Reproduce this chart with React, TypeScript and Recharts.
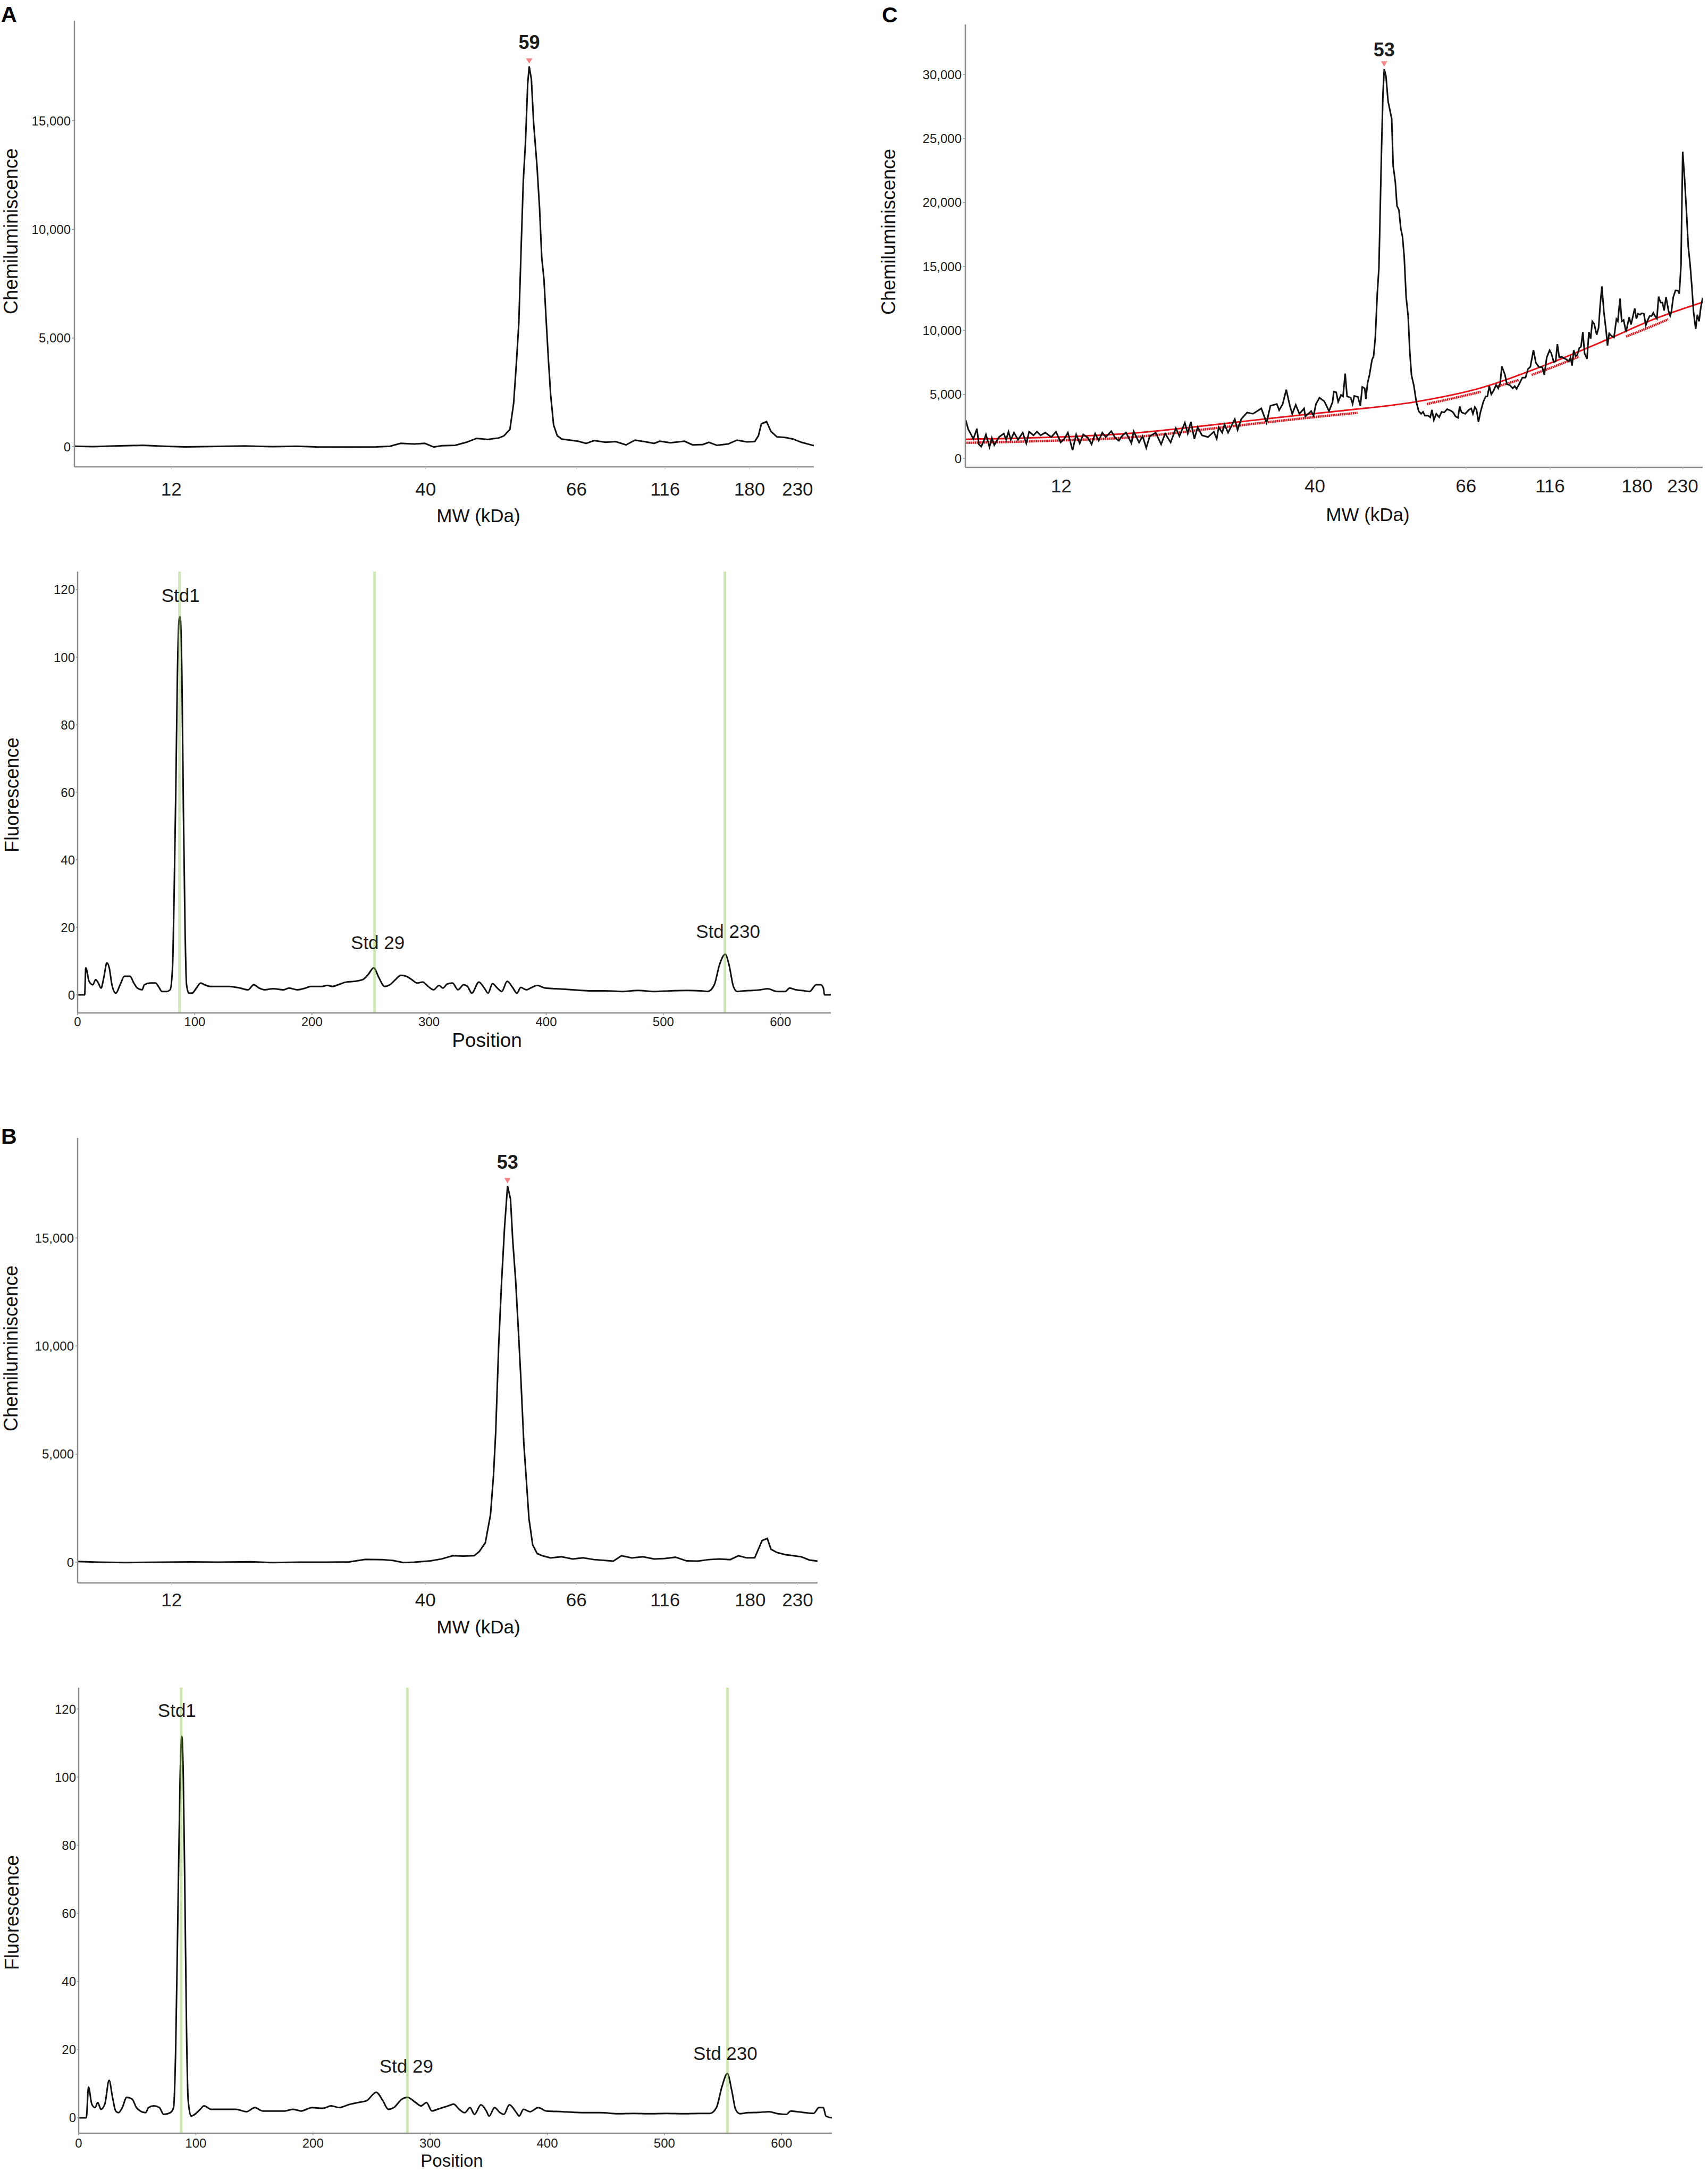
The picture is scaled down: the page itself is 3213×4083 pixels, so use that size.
import React from "react";
import { LineChart, Line, XAxis, YAxis, ReferenceLine, ReferenceDot } from "recharts";

const FONT = "'Liberation Sans', Arial, Helvetica, sans-serif";
const INK = "#1c1c1c";
const AXIS = "#8c8c8c";
const TRACE = "#111111";
const STD_GREEN = "#8bc34a";
const FIT_RED = "#e8141c";

type Pt = [number, number];
const rows = (pts: Pt[]) => pts.map(([x, y]) => ({ x, y }));

// MW axis: label text, and where each label sits on the 0-1000 lane scale
const MW_LABELS = ["12", "40", "66", "116", "180", "230"];
const A_MW_TICKS = [131, 475, 679, 799, 913, 978];
const B_MW_TICKS = [127, 470, 674, 794, 909, 973];
const C_MW_TICKS = [130, 474, 679, 793, 911, 973];

const CHEMI_TICKS_A = [0, 5000, 10000, 15000];
const CHEMI_TICKS_C = [0, 5000, 10000, 15000, 20000, 25000, 30000];
const FLUOR_Y_TICKS = [0, 20, 40, 60, 80, 100, 120];
const FLUOR_X_TICKS = [0, 100, 200, 300, 400, 500, 600];

// A - chemiluminescence lane (x on 0-1000 lane scale)
const A_TRACE: Pt[] = [
  [0, 20], [24.6, 0], [54.2, 30], [92.5, 60], [120.6, 20], [150, -10], [194.3, 10], [231, 30],
  [268, 0], [301, 20], [327, -10], [371, -20], [408, -10], [427, 20], [441, 150], [460, 120],
  [474, 150], [486, -20], [496.6, 40], [515, 60], [530, 200], [544, 380], [559, 330], [574, 400],
  [581, 500], [589, 800], [594, 2000], [598, 4000], [601, 5700], [604, 9000], [607, 12200],
  [610, 14000], [613, 16700], [615, 17500], [618, 16900], [621, 14900], [625.6, 12900],
  [629, 11000], [632, 8700], [635, 7700], [638, 5800], [641, 4000], [644, 2400], [648, 1000],
  [653, 500], [659, 350], [670, 300], [681, 250], [692, 150], [703, 280], [718, 200], [732, 230],
  [746, 80], [758, 300], [773, 220], [784, 150], [791.6, 250], [806, 180], [825, 250], [836, 80],
  [850, 100], [858, 200], [869, 60], [884, 120], [896, 300], [909, 220], [920, 230], [925, 500],
  [929, 1050], [936, 1150], [942, 700], [950, 450], [961, 420], [972, 350], [983, 200],
  [994, 100], [1000, 50],
];
const A_PEAK: Pt = [615, 17500];

// A - standards lane (fluorescence vs position)
const A_FLUOR: Pt[] = [
  [0, 0], [6, 0], [7, 8], [9.8, 4], [13, 3], [15.4, 4.5], [17.7, 3.5], [20, 2], [22.3, 5],
  [25, 9.5], [27, 8], [29.3, 3], [32.6, 0.5], [36.3, 3], [40, 5.5], [44.7, 5.5], [48, 3.5],
  [51, 2], [55, 1.5], [57, 3], [62, 3.5], [66.5, 3.5], [69, 2.5], [72, 1], [76, 1], [79, 1.5],
  [81, 8], [82.4, 30], [83.8, 60], [85.2, 95], [86.6, 111], [87.5, 112], [89, 95], [90.3, 55],
  [91.7, 20], [93, 3], [95, 0.5], [97.7, 0.5], [101.4, 2], [105, 3.5], [108.4, 3], [113, 2.5],
  [120, 2.5], [129.4, 2.5], [138.7, 2], [145.6, 1.5], [150.3, 3], [155, 2], [159.6, 1.5],
  [166.6, 1.8], [175.9, 1.5], [180.5, 2], [187.5, 1.5], [194.5, 2], [199, 2.5], [208.5, 2.5],
  [213, 2.8], [217.8, 2.5], [222.4, 3], [229.4, 3.8], [236.4, 4], [243.4, 4.5], [248, 6],
  [252.7, 8], [257.3, 5], [262, 2.5], [266.6, 3], [271.3, 4.5], [275.9, 5.8], [280.6, 5.5],
  [285.3, 4.5], [289.9, 3.5], [294.6, 3.8], [299.2, 2.5], [303.9, 1.5], [308.5, 2.8], [311.8, 2],
  [315.5, 3.2], [320, 3.5], [324.8, 1.5], [329.5, 3], [332.8, 2.5], [336.5, 0.5], [342.5, 3.8],
  [347.2, 2], [350.4, 0.5], [354.1, 3.3], [358.3, 2], [362, 1], [366.7, 4], [371.3, 2.2],
  [375, 0.5], [378.3, 2.2], [383, 1.5], [387.6, 2.2], [392.3, 2.8], [399.3, 2], [408.6, 1.8],
  [422.5, 1.5], [436.5, 1.2], [450.4, 1.2], [464.4, 1], [478.4, 1.3], [492.3, 1], [506.3, 1.2],
  [520.2, 1.3], [531.9, 1.2], [537.9, 1], [543.5, 3], [548, 9], [552.8, 12], [556, 9],
  [559.8, 2.5], [563, 1], [569, 1.2], [576, 1.3], [583, 1.5], [589, 1.8], [597, 1], [604, 1],
  [607.8, 2], [613.3, 1.5], [620.3, 1.2], [624.8, 1], [630.5, 3], [634.3, 3], [636.6, 2],
  [637.5, 0], [643, 0],
];
const A_STD_NAMES = ["Std1", "Std 29", "Std 230"];
const A_STD_POS = [87, 253.5, 552.5];
const A_STD_PEAK = [112, 8, 12];

// B - chemiluminescence lane
const B_TRACE: Pt[] = [
  [0, 30], [28, 0], [65, -20], [116, 0], [153, 10], [190, 0], [234, 20], [264, -20], [300, 0],
  [337, 0], [367, 10], [389, 130], [411, 120], [426, 80], [440, -20], [455, 0], [477, 60],
  [492, 150], [507, 300], [521, 280], [536, 300], [543, 500], [551, 900], [558, 2200],
  [562, 4000], [565, 6000], [569, 10000], [573, 13000], [577, 15500], [581, 17400],
  [585, 16800], [588, 14900], [592, 13000], [596, 10500], [599, 8500], [603, 5500], [607, 3500],
  [610, 2000], [615, 800], [621, 400], [628, 300], [639, 200], [654, 250], [669, 150], [683, 200],
  [698, 120], [713, 80], [724, 50], [735, 300], [749, 200], [764, 250], [779, 150], [794, 170],
  [808, 230], [823, 60], [838, 50], [853, 120], [867, 150], [882, 120], [893, 300], [904, 200],
  [915, 200], [920, 600], [925, 1000], [932, 1100], [937, 600], [945, 450], [956, 350],
  [967, 300], [978, 250], [989, 100], [1000, 50],
];
const B_PEAK: Pt = [581, 17400];

// B - standards lane
const B_FLUOR: Pt[] = [
  [0, 0], [6.5, 0], [8.4, 9], [11.2, 4], [14, 3], [16.3, 4.5], [19, 2.5], [22.3, 4], [26, 11],
  [28.9, 6], [31.6, 2], [34, 1.5], [37.2, 3], [41, 6], [45.6, 5.5], [49.3, 3], [52.6, 2],
  [57.2, 1.5], [59.6, 3], [64.2, 3.5], [68.9, 3], [72.6, 1], [78.2, 1.5], [81, 3], [82.8, 20],
  [84.7, 60], [86.6, 100], [88, 112], [89.3, 100], [90.7, 65], [92.1, 25], [93.5, 5],
  [95.9, 0.5], [99, 1], [103.8, 2.5], [107, 3.5], [113, 2.5], [120, 2.5], [134, 2.5],
  [143.3, 1.8], [150.3, 3], [157.3, 2], [166.6, 2], [175.9, 2], [182.9, 2.5], [189.9, 2],
  [199.2, 3], [208.5, 2.8], [215.5, 3.5], [222.4, 3], [231.7, 4], [238.7, 4.5], [245.7, 5],
  [254, 7.5], [259.7, 5], [264.3, 2.5], [269, 3], [276, 5.5], [280.6, 6], [287.6, 4.5],
  [292.2, 3.5], [296.9, 4.5], [301.5, 2], [306.2, 2.5], [310.8, 3], [315.5, 3.5], [320.1, 4],
  [324.8, 2.5], [329.5, 1.5], [334.1, 3], [337.8, 1], [343.4, 3.8], [348, 2], [350.4, 0.5],
  [355, 3], [359.7, 1.5], [363, 1], [367.6, 3.8], [373.7, 1.5], [376, 0.5], [379.7, 2.5],
  [385.3, 1.8], [392.3, 3], [399.3, 2], [413.2, 1.8], [431.8, 1.5], [445.8, 1.5], [459.7, 1.2],
  [473.7, 1.3], [487.7, 1.2], [501.6, 1.3], [515.6, 1.2], [529.5, 1.3], [538.9, 1.3],
  [544.4, 3], [549, 9], [553.7, 13], [557.5, 8], [560.7, 2.5], [564.4, 1.2], [571.4, 1.5],
  [580.7, 1.6], [589.1, 1.8], [597, 1.2], [604, 1], [607.8, 2], [613.3, 1.8], [620.3, 1.5],
  [627.3, 1.3], [631.9, 3], [635.6, 3], [637.9, 0.5], [643, 0],
];
const B_STD_NAMES = ["Std1", "Std 29", "Std 230"];
const B_STD_POS = [87.5, 280.6, 553.8];
const B_STD_PEAK = [112, 6, 13];

// C - chemiluminescence lane with baseline fits
const C_TRACE: Pt[] = [
  [0.5, 2990], [3.8, 2290], [7, 1940], [10.8, 1520], [15.7, 2320], [18.2, 1100], [21.5, 920],
  [24.7, 1310], [27.9, 1870], [32.7, 890], [35.9, 1590], [39.2, 1030], [45.6, 1660], [52.1, 1940],
  [55.3, 1450], [58.5, 2080], [61.7, 1450], [65.9, 2010], [71.4, 1450], [77.8, 2010], [82.6, 1170],
  [86.5, 2080], [92.3, 1800], [97.1, 2080], [102, 1800], [108.4, 2010], [116.5, 1660],
  [122.9, 2080], [129.3, 1240], [134.2, 1520], [139, 2010], [145.4, 640], [150.3, 1870],
  [155.1, 1170], [159.9, 1870], [166.4, 1590], [171.2, 1100], [176, 1940], [180.9, 1380],
  [185.7, 2010], [190.5, 1660], [197.9, 2120], [203.4, 1590], [208.2, 1380], [213.1, 1800],
  [217.9, 2010], [225.3, 1170], [228.2, 2120], [235.6, 1240], [240.4, 1730], [245.3, 820],
  [250.1, 1730], [258.1, 2010], [265.5, 1100], [271, 1940], [278.4, 1240], [285.5, 2360],
  [290.3, 1730], [297.7, 2780], [301.6, 1940], [305.8, 2850], [310.6, 1520], [315.1, 2430],
  [320.9, 1800], [329, 1660], [337, 2080], [340.9, 1520], [343.5, 2430], [348.3, 2010],
  [351.5, 2640], [356.3, 2010], [365.4, 3060], [369.2, 2220], [374.1, 3060], [382.1, 3580],
  [390.1, 3480], [401.4, 3900], [408.5, 2780], [413.7, 4110], [422.4, 4250], [425.6, 3760],
  [430.4, 4250], [435.2, 5370], [440.1, 4110], [443.3, 3480], [448.1, 4180], [453, 3480],
  [459.4, 3900], [461, 3270], [469, 3690], [472.3, 3340], [475.5, 4250], [480.3, 4740],
  [486.8, 4460], [493.2, 3690], [498, 4390], [499.7, 5220], [503, 5160], [505.6, 4420],
  [509.5, 4950], [512.2, 4840], [515.1, 6620], [517.7, 4840], [522.6, 4740], [525.2, 4260],
  [527.5, 4880], [532.4, 4800], [535.7, 4110], [538.3, 5580], [541.6, 5470], [543.2, 4630],
  [545.5, 5890], [548.1, 6520], [551.4, 7670], [553.7, 7990], [556, 9450], [558.6, 12800],
  [560.9, 14900], [562.5, 19090], [564.5, 24330], [566.4, 28530], [568.1, 30410], [570.4, 29890],
  [573.3, 27900], [578.2, 26540], [580.2, 22870], [583.1, 21610], [585.4, 19720], [588, 19410],
  [590.6, 17940], [592.9, 17310], [595.2, 15740], [597.8, 12600], [600.5, 11130], [602.7, 8400],
  [605, 6520], [608.3, 5680], [611.6, 4420], [614.8, 3690], [618.1, 3480], [620.7, 3630],
  [623.3, 3330], [627.9, 3330], [630.5, 3210], [632.8, 3790], [635.4, 3000], [638.7, 3480],
  [642.6, 3210], [645.9, 3630], [649.5, 3590], [653.4, 3840], [658.3, 3730], [661.6, 3590],
  [664.9, 3270], [668.1, 3170], [670.4, 4050], [673, 3590], [677.9, 3480], [682.9, 3790],
  [686.1, 3900], [688.4, 3480], [691, 4000], [693.3, 3790], [695.9, 2850], [698.5, 3590],
  [702.5, 4420], [705.7, 4840], [708, 4840], [710.6, 5640], [713.3, 5010], [716.5, 5300],
  [719.8, 5740], [722.7, 5470], [725.4, 5890], [727.6, 7190], [731.9, 6520], [734.5, 5790],
  [738.4, 5720], [742.4, 5470], [745, 5640], [747.6, 5430], [751.5, 5850], [755.4, 6310],
  [759.7, 6310], [763, 6980], [766.2, 7150], [770.5, 8450], [773.8, 7460], [777.7, 7150],
  [782.6, 7110], [785.2, 6520], [788.5, 7880], [792.4, 8450], [794.7, 8200], [798, 7530],
  [800.6, 7570], [802.9, 8930], [805.5, 7880], [808.7, 7940], [812, 7820], [815.3, 7730],
  [818.5, 7570], [820.8, 7880], [822.8, 7250], [825.1, 8450], [827.4, 7990], [830, 8090],
  [832.6, 8620], [834.9, 8720], [837.5, 9870], [839.8, 8200], [843.1, 7780], [845.7, 9870],
  [848, 9350], [850.3, 10710], [852.9, 10500], [856.2, 9660], [858.8, 10190], [861.1, 12070],
  [863.3, 13440], [866, 11450], [869.2, 9870], [870.9, 8820], [873.2, 9770], [876.4, 9560],
  [879.7, 9450], [883, 10880], [884.9, 10710], [887.9, 12490], [890.2, 10710], [892.8, 10810],
  [896, 9870], [900.3, 11030], [902.9, 10460], [907.8, 11720], [910.1, 10920], [912.4, 11300],
  [915, 11230], [917.6, 11340], [920.2, 11300], [922.9, 10390], [925.5, 10810], [928.1, 11130],
  [930.7, 11130], [933, 11380], [935.3, 11130], [937.9, 10920], [940.2, 12640], [942.8, 12180],
  [945.4, 12180], [947.7, 11550], [950.3, 12600], [953.6, 11550], [955.9, 11130], [957.5, 11450],
  [960.1, 12600], [963.1, 13120], [966.3, 13120], [968.3, 12870], [970.6, 15110], [971.6, 19090],
  [972.9, 23960], [975.5, 21820], [978.1, 19200], [980.4, 16580], [983, 15110], [985.3, 13440],
  [987.6, 11450], [990.5, 10120], [992.8, 11230], [995.1, 10710], [997.4, 11760], [1000, 12560],
];
const C_PEAK: Pt = [568, 30410];
const C_FIT: Pt[] = [
  [0, 1490], [124, 1660], [221, 1940], [350, 2710], [414, 3130], [500, 3660], [611, 4420],
  [699, 5500], [787, 7300], [869, 9250], [935, 10900], [1000, 12200],
];
const C_FIT_PIECES: Pt[][] = [
  [[0, 1210], [124, 1390], [221, 1630], [350, 2430], [414, 2850], [500, 3380], [532, 3560]],
  [[626, 4250], [662, 4700], [699, 5200]],
  [[722, 5620], [751, 6130]],
  [[768, 6520], [800, 7200], [832, 7950]],
  [[896, 9520], [925, 10180], [953, 10860]],
];

const Y_AXIS_W = 200;

function PeakMark(props: any) {
  const { cx, cy, label, lift } = props;
  if (cx == null || cy == null) return null;
  return (
    <g>
      <polygon points={`${cx - 6},${cy - 15} ${cx + 6},${cy - 15} ${cx},${cy - 5}`} fill="#f08585" />
      <text x={cx} y={cy - lift + 13} textAnchor="middle" fontSize={36} fontWeight="bold" fill={INK} fontFamily={FONT}>
        {label}
      </text>
    </g>
  );
}

function StdMark(props: any) {
  const { cx, cy, label, lift, dx } = props;
  if (cx == null || cy == null) return null;
  return (
    <text x={cx + dx} y={cy - lift + 12.5} textAnchor="middle" fontSize={35} fill={INK} fontFamily={FONT}>
      {label}
    </text>
  );
}

function MwChart(props: any) {
  const { left, top, width, height, yDomain, yTicks, xTicks, trace, peak, label, lift, gap, children } = props;
  return (
    <div style={{ position: "absolute", left: left - Y_AXIS_W, top }}>
      <LineChart width={Y_AXIS_W + width} height={height + 80} margin={{ top: 0, right: 0, bottom: 0, left: 0 }}>
        <XAxis
          type="number"
          dataKey="x"
          domain={[0, 1000]}
          allowDataOverflow
          ticks={xTicks}
          interval={0}
          tickFormatter={(v: number) => MW_LABELS[xTicks.indexOf(v)] ?? ""}
          height={80}
          axisLine={{ stroke: AXIS, strokeWidth: 2.5 }}
          tickLine={{ stroke: "#c8c8c8", strokeWidth: 1.5 }}
          tickSize={4}
          tickMargin={gap - 4}
          tick={{ fontSize: 35, fill: INK, fontFamily: FONT }}
        />
        <YAxis
          type="number"
          domain={yDomain}
          allowDataOverflow
          ticks={yTicks}
          interval={0}
          width={Y_AXIS_W}
          tickFormatter={(v: number) => v.toLocaleString("en-US")}
          axisLine={{ stroke: AXIS, strokeWidth: 2.5 }}
          tickLine={{ stroke: AXIS, strokeWidth: 1.5 }}
          tickSize={4}
          tickMargin={3}
          tick={{ fontSize: 24, fill: INK, fontFamily: FONT }}
        />
        {children}
        <Line data={rows(trace)} dataKey="y" type="linear" stroke={TRACE} strokeWidth={3} dot={false} activeDot={false} isAnimationActive={false} />
        <ReferenceDot
          x={peak[0]}
          y={peak[1]}
          r={0}
          ifOverflow="visible"
          shape={(p: any) => <PeakMark {...p} label={label} lift={lift} />}
        />
      </LineChart>
    </div>
  );
}

function FluorChart(props: any) {
  const { left, top, width, height, yDomain, trace, names, pos, peaks, lifts, shifts, gap } = props;
  return (
    <div style={{ position: "absolute", left: left - Y_AXIS_W, top }}>
      <LineChart width={Y_AXIS_W + width} height={height + 60} margin={{ top: 0, right: 0, bottom: 0, left: 0 }}>
        <XAxis
          type="number"
          dataKey="x"
          domain={[0, 643]}
          allowDataOverflow
          ticks={FLUOR_X_TICKS}
          interval={0}
          height={60}
          axisLine={{ stroke: AXIS, strokeWidth: 2.5 }}
          tickLine={{ stroke: AXIS, strokeWidth: 1.5 }}
          tickSize={4}
          tickMargin={gap - 4}
          tick={{ fontSize: 24, fill: INK, fontFamily: FONT }}
        />
        <YAxis
          type="number"
          domain={yDomain}
          allowDataOverflow
          ticks={FLUOR_Y_TICKS}
          interval={0}
          width={Y_AXIS_W}
          axisLine={{ stroke: AXIS, strokeWidth: 2.5 }}
          tickLine={{ stroke: AXIS, strokeWidth: 1.5 }}
          tickSize={3}
          tickMargin={2}
          tick={{ fontSize: 24, fill: INK, fontFamily: FONT }}
        />
        <Line data={rows(trace)} dataKey="y" type="monotone" stroke={TRACE} strokeWidth={3} dot={false} activeDot={false} isAnimationActive={false} />
        {pos.map((p: number, i: number) => (
          <ReferenceLine key={"l" + i} x={p} stroke={STD_GREEN} strokeOpacity={0.42} strokeWidth={5} />
        ))}
        {pos.map((p: number, i: number) => (
          <ReferenceDot
            key={"d" + i}
            x={p}
            y={peaks[i]}
            r={0}
            ifOverflow="visible"
            shape={(sp: any) => <StdMark {...sp} label={names[i]} lift={lifts[i]} dx={shifts[i]} />}
          />
        ))}
      </LineChart>
    </div>
  );
}

function VTitle({ x, y, text }: { x: number; y: number; text: string }) {
  return (
    <text x={x} y={y} transform={`rotate(-90 ${x} ${y})`} textAnchor="middle" fontSize={36} fill="#111" fontFamily={FONT}>
      {text}
    </text>
  );
}

export default function App() {
  return (
    <div style={{ position: "absolute", left: 0, top: 0, width: 3213, height: 4083, background: "#fff", overflow: "hidden" }}>
      <MwChart
        left={140}
        top={39}
        width={1391}
        height={839}
        yDomain={[-930, 19600]}
        yTicks={CHEMI_TICKS_A}
        xTicks={A_MW_TICKS}
        trace={A_TRACE}
        peak={A_PEAK}
        label="59"
        lift={46}
        gap={29}
      />
      <FluorChart
        left={146}
        top={1075}
        width={1417}
        height={830}
        yDomain={[-5.35, 125.35]}
        trace={A_FLUOR}
        names={A_STD_NAMES}
        pos={A_STD_POS}
        peaks={A_STD_PEAK}
        lifts={[40, 48, 43]}
        shifts={[2, 6, 6]}
        gap={8}
      />
      <MwChart
        left={146}
        top={2140}
        width={1392}
        height={837}
        yDomain={[-959, 19626]}
        yTicks={CHEMI_TICKS_A}
        xTicks={B_MW_TICKS}
        trace={B_TRACE}
        peak={B_PEAK}
        label="53"
        lift={46}
        gap={19}
      />
      <FluorChart
        left={148}
        top={3174}
        width={1417}
        height={838}
        yDomain={[-4.53, 126.25]}
        trace={B_FLUOR}
        names={B_STD_NAMES}
        pos={B_STD_POS}
        peaks={B_STD_PEAK}
        lifts={[49, 59, 38]}
        shifts={[-8, -2, -4]}
        gap={10}
      />
      <MwChart
        left={1816}
        top={46}
        width={1387}
        height={833}
        yDomain={[-706, 33907]}
        yTicks={CHEMI_TICKS_C}
        xTicks={C_MW_TICKS}
        trace={C_TRACE}
        peak={C_PEAK}
        label="53"
        lift={37}
        gap={22}
      >
        <Line data={rows(C_FIT)} dataKey="y" type="monotone" stroke={FIT_RED} strokeWidth={3} dot={false} activeDot={false} isAnimationActive={false} />
        {C_FIT_PIECES.map((seg, i) => (
          <Line
            key={i}
            data={rows(seg)}
            dataKey="y"
            type="monotone"
            stroke={FIT_RED}
            strokeWidth={4.5}
            strokeDasharray="2.5 1"
            dot={false}
            activeDot={false}
            isAnimationActive={false}
          />
        ))}
      </MwChart>
      <svg width={3213} height={4083} style={{ position: "absolute", left: 0, top: 0, pointerEvents: "none" }}>
        <text x={2} y={41} fontSize={41} fontWeight="bold" fill="#000" fontFamily={FONT}>A</text>
        <text x={2} y={2151} fontSize={41} fontWeight="bold" fill="#000" fontFamily={FONT}>B</text>
        <text x={1659} y={42} fontSize={41} fontWeight="bold" fill="#000" fontFamily={FONT}>C</text>
        <VTitle x={33} y={435} text="Chemiluminiscence" />
        <VTitle x={35} y={1495} text="Fluorescence" />
        <VTitle x={33} y={2536} text="Chemiluminiscence" />
        <VTitle x={35} y={3597} text="Fluorescence" />
        <VTitle x={1684} y={436} text="Chemiluminiscence" />
        <text x={900} y={982} textAnchor="middle" fontSize={35} fill="#111" fontFamily={FONT}>MW (kDa)</text>
        <text x={900} y={3072} textAnchor="middle" fontSize={35} fill="#111" fontFamily={FONT}>MW (kDa)</text>
        <text x={2573} y={980} textAnchor="middle" fontSize={35} fill="#111" fontFamily={FONT}>MW (kDa)</text>
        <text x={916} y={1969} textAnchor="middle" fontSize={37} fill="#111" fontFamily={FONT}>Position</text>
        <text x={850} y={4075} textAnchor="middle" fontSize={33} fill="#111" fontFamily={FONT}>Position</text>
      </svg>
    </div>
  );
}
